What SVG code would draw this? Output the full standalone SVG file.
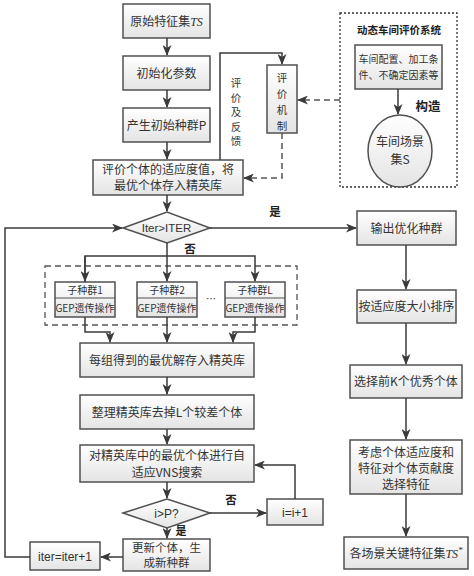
<svg xmlns="http://www.w3.org/2000/svg" width="474" height="576" viewBox="0 0 474 576">
<defs>
<linearGradient id="g" x1="0" y1="0" x2="0" y2="1"><stop offset="0" stop-color="#ffffff"/><stop offset="1" stop-color="#e4e4e4"/></linearGradient>
<marker id="a" markerUnits="userSpaceOnUse" markerWidth="11" markerHeight="9" refX="10" refY="4.5" orient="auto"><path d="M0,0 L11,4.5 L0,9 L3,4.5 z" fill="#3a3a3a"/></marker>
<style>
.b{fill:url(#g);stroke:#505050;stroke-width:1.5}
.t{font-family:"Noto Sans CJK SC","Liberation Serif",serif;font-size:12px;fill:#333;text-anchor:middle}
.s{font-family:"Noto Sans CJK SC","Liberation Sans",sans-serif;font-size:10px;fill:#333;text-anchor:middle}
.v{font-family:"Noto Sans CJK SC","Liberation Sans",sans-serif;font-size:10.5px;fill:#333;text-anchor:middle}
.l{font-family:"Noto Sans CJK SC","Liberation Sans",sans-serif;font-size:11.5px;font-weight:bold;fill:#222;text-anchor:middle}
.e{font-family:"Liberation Serif",serif;font-style:italic}
.c{fill:none;stroke:#3a3a3a;stroke-width:1.5}
.d{fill:none;stroke:#555;stroke-width:1.5;stroke-dasharray:6,4}
</style>
</defs>
<rect width="474" height="576" fill="#fff"/>
<g id="n1"><rect class="b" x="123" y="4" width="87" height="34"/><text class="t" x="166.5" y="25.5">原始特征集<tspan class="e">TS</tspan></text></g>
<g id="n2"><rect class="b" x="123" y="56" width="87" height="34"/><text class="t" x="166.5" y="77.5">初始化参数</text></g>
<g id="n3"><rect class="b" x="123" y="108" width="87" height="34"/><text class="t" x="166.5" y="129.5">产生初始种群P</text></g>
<g id="n4"><rect class="b" x="93" y="160" width="150" height="35"/><text class="t" x="168" y="174">评价个体的适应度值，将</text><text class="t" x="168" y="190">最优个体存入精英库</text></g>
<g id="n5"><rect class="b" x="267" y="65" width="30" height="68"/><text class="v" x="282" y="82">评</text><text class="v" x="282" y="98">价</text><text class="v" x="282" y="114">机</text><text class="v" x="282" y="130">制</text></g>
<g id="lbl-feedback"><text class="v" x="236" y="87">评</text><text class="v" x="236" y="101.5">价</text><text class="v" x="236" y="116">及</text><text class="v" x="236" y="130.5">反</text><text class="v" x="236" y="145">馈</text></g>
<g id="sys"><rect x="340" y="13" width="117" height="174" fill="none" stroke="#333" stroke-width="1.3" stroke-dasharray="2,2"/><text class="l" x="399" y="34" style="font-size:10.5px">动态车间评价系统</text>
<g id="n6"><rect class="b" x="355" y="45" width="87" height="44"/><text class="s" x="398.5" y="63">车间配置、加工条</text><text class="s" x="398.5" y="79">件、不确定因素等</text></g>
<g id="n7"><ellipse cx="400" cy="151" rx="32" ry="36" fill="url(#g)" stroke="#505050" stroke-width="1.5"/><text class="t" x="400" y="146">车间场景</text><text class="t" x="400" y="164">集S</text></g>
<text class="l" x="428" y="111" style="font-size:12.5px">构造</text></g>
<g id="d1"><polygon class="b" points="123,228 167,212 210,228 167,243"/><text class="t" x="166.5" y="232" style="font-family:'Liberation Sans',sans-serif;font-size:11.5px">Iter&gt;ITER</text></g>
<g id="grp"><rect x="45" y="266" width="252" height="59" fill="none" stroke="#555" stroke-width="1.3" stroke-dasharray="6,4"/>
<g id="sp1"><rect class="b" x="55" y="282" width="60" height="35"/><line x1="55" y1="298" x2="115" y2="298" stroke="#505050" stroke-width="1.2"/><text class="s" x="85" y="294">子种群1</text><text class="s" x="85" y="311.5">GEP遗传操作</text></g>
<g id="sp2"><rect class="b" x="137" y="282" width="60" height="35"/><line x1="137" y1="298" x2="197" y2="298" stroke="#505050" stroke-width="1.2"/><text class="s" x="167" y="294">子种群2</text><text class="s" x="167" y="311.5">GEP遗传操作</text></g>
<text class="s" x="211" y="303">…</text>
<g id="spL"><rect class="b" x="225" y="282" width="60" height="35"/><line x1="225" y1="298" x2="285" y2="298" stroke="#505050" stroke-width="1.2"/><text class="s" x="255" y="294">子种群L</text><text class="s" x="255" y="311.5">GEP遗传操作</text></g></g>
<g id="n8"><rect class="b" x="80" y="343" width="174" height="34"/><text class="t" x="167" y="364.5">每组得到的最优解存入精英库</text></g>
<g id="n9"><rect class="b" x="80" y="395" width="174" height="34"/><text class="t" x="167" y="416.5">整理精英库去掉L个较差个体</text></g>
<g id="n10"><rect class="b" x="80" y="445" width="174" height="37"/><text class="t" x="167" y="460">对精英库中的最优个体进行自</text><text class="t" x="167" y="477">适应VNS搜索</text></g>
<g id="d2"><polygon class="b" points="123,513 167,499 210,513 167,528"/><text class="t" x="166.5" y="517.5" style="font-family:'Liberation Sans',sans-serif;font-size:12px">i&gt;P?</text></g>
<g id="n11"><rect class="b" x="267" y="499" width="56" height="26"/><text class="t" x="295" y="516.5" style="font-family:'Liberation Sans',sans-serif;font-size:12px">i=i+1</text></g>
<g id="n12"><rect class="b" x="123" y="539" width="87" height="32"/><text class="t" x="166.5" y="552" style="font-size:11.5px">更新个体，生</text><text class="t" x="166.5" y="567" style="font-size:11.5px">成新种群</text></g>
<g id="n13"><rect class="b" x="30" y="542" width="70" height="28"/><text class="t" x="65" y="560.5" style="font-family:'Liberation Sans',sans-serif;font-size:12px">iter=iter+1</text></g>
<g id="n14"><rect class="b" x="357" y="211" width="99" height="34"/><text class="t" x="406.5" y="232.5">输出优化种群</text></g>
<g id="n15"><rect class="b" x="357" y="290" width="99" height="33"/><text class="t" x="406.5" y="311">按适应度大小排序</text></g>
<g id="n16"><rect class="b" x="350" y="365" width="112" height="33"/><text class="t" x="406" y="386">选择前K个优秀个体</text></g>
<g id="n17"><rect class="b" x="350" y="440" width="112" height="54"/><text class="t" x="406" y="456.5">考虑个体适应度和</text><text class="t" x="406" y="472.5">特征对个体贡献度</text><text class="t" x="406" y="488.5">选择特征</text></g>
<g id="n18"><rect class="b" x="344" y="537" width="124" height="32"/><text class="t" x="406" y="558">各场景关键特征集<tspan class="e">TS</tspan><tspan class="e" dy="-5" font-size="9">*</tspan></text></g>
<g id="labels"><text class="l" x="275" y="216">是</text><text class="l" x="190" y="253">否</text><text class="l" x="231" y="504">否</text><text class="l" x="181" y="535" style="font-size:11px">是</text></g>
<g id="connectors">
<path class="c" d="M167,38 V55" marker-end="url(#a)"/>
<path class="c" d="M167,90 V107" marker-end="url(#a)"/>
<path class="c" d="M167,142 V159" marker-end="url(#a)"/>
<path class="c" d="M220,160 V53 H282 V64" marker-end="url(#a)"/>
<path class="d" d="M282,133 V178 H244" marker-end="url(#a)"/>
<path class="d" d="M340,100 H298" marker-end="url(#a)"/>
<path class="c" d="M398,89 V114" stroke-width="2" marker-end="url(#a)"/>
<path class="c" d="M167,195 V211" marker-end="url(#a)"/>
<path class="c" d="M210,228 H356" marker-end="url(#a)"/>
<path class="c" d="M167,243 V281" marker-end="url(#a)"/>
<path class="c" d="M85,282 V256 H255 V281" marker-end="url(#a)"/>
<path class="c" d="M85,256 V281" marker-end="url(#a)"/>
<path class="c" d="M85,317 V332 H110 V342" marker-end="url(#a)"/>
<path class="c" d="M167,317 V342" marker-end="url(#a)"/>
<path class="c" d="M255,317 V332 H233 V342" marker-end="url(#a)"/>
<path class="c" d="M167,377 V394" marker-end="url(#a)"/>
<path class="c" d="M167,429 V444" marker-end="url(#a)"/>
<path class="c" d="M167,482 V498" marker-end="url(#a)"/>
<path class="c" d="M210,513 H266" marker-end="url(#a)"/>
<path class="c" d="M295,499 V465 H255" marker-end="url(#a)"/>
<path class="c" d="M167,528 V538" marker-end="url(#a)"/>
<path class="c" d="M123,557 H101" marker-end="url(#a)"/>
<path class="c" d="M30,557 H5 V228 H122" marker-end="url(#a)"/>
<path class="c" d="M406,245 V289" marker-end="url(#a)"/>
<path class="c" d="M406,323 V364" marker-end="url(#a)"/>
<path class="c" d="M406,398 V439" marker-end="url(#a)"/>
<path class="c" d="M406,494 V536" marker-end="url(#a)"/>
</g>
</svg>
